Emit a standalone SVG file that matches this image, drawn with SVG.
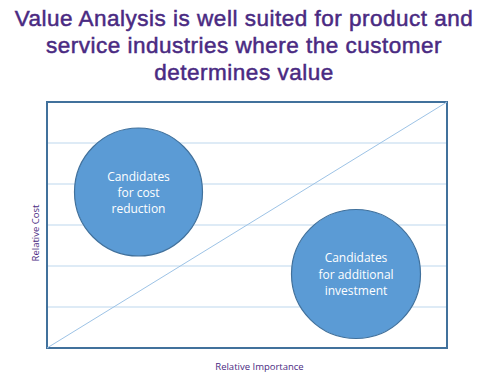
<svg xmlns="http://www.w3.org/2000/svg" width="486" height="380" viewBox="0 0 486 380">
<style>
.title{font-family:"Liberation Sans",Arial,sans-serif;font-size:22.5px;letter-spacing:0.5px;fill:#4A2A82;stroke:#4A2A82;stroke-width:0.5;text-anchor:middle}
.grid{stroke:#BDD7EE;stroke-width:1.2}
.node circle{fill:#5B9BD5;stroke:#41719C;stroke-width:1.2}
.node text{font-family:"Open Sans","Liberation Sans",sans-serif;font-size:12px;fill:#FFFFFF;text-anchor:middle}
.axis{font-family:"Open Sans","Liberation Sans",sans-serif;font-size:9.5px;fill:#4A2A82;text-anchor:middle}
</style>
<rect width="486" height="380" fill="#FFFFFF"/>
<g id="title">
<text class="title" x="244" y="26">Value Analysis is well suited for product and</text>
<text class="title" x="244" y="53">service industries where the customer</text>
<text class="title" x="244" y="80">determines value</text>
</g>
<g id="chart">
<line class="grid" x1="47" y1="143" x2="447" y2="143"/>
<line class="grid" x1="47" y1="184" x2="447" y2="184"/>
<line class="grid" x1="47" y1="225" x2="447" y2="225"/>
<line class="grid" x1="47" y1="266" x2="447" y2="266"/>
<line class="grid" x1="47" y1="307" x2="447" y2="307"/>
<rect x="47" y="102" width="400" height="246" fill="none" stroke="#41719C" stroke-width="2"/>
</g>
<g id="connectors">
<line x1="47" y1="348" x2="447" y2="102" stroke="#9DC3E6" stroke-width="1"/>
</g>
<g id="node-cost" class="node">
<circle cx="138.5" cy="192" r="64"/>
<text x="138.5" y="181">Candidates</text>
<text x="138.5" y="197">for cost</text>
<text x="138.5" y="213">reduction</text>
</g>
<g id="node-invest" class="node">
<circle cx="356" cy="274" r="64.5"/>
<text x="356" y="262">Candidates</text>
<text x="356" y="279">for additional</text>
<text x="356" y="295">investment</text>
</g>
<g id="axes">
<text class="axis" transform="translate(39,233) rotate(-90)">Relative Cost</text>
<text class="axis" x="259.5" y="370">Relative Importance</text>
</g>
</svg>
